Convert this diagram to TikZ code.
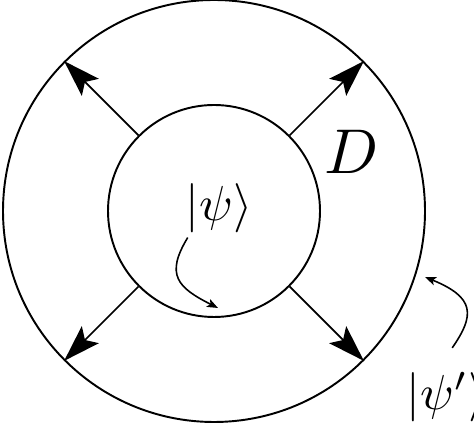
\documentclass[tikz,border=0pt]{standalone}
\usepackage{amssymb}
\usepackage{amsmath}
\usepackage{xcolor}
\usepackage{tikz}
\usetikzlibrary{arrows.meta}

\tikzset{
    ring/.style={draw,circle,inner sep=0pt,line width=1.1pt},
    spread/.style={line width=1pt,-{Stealth[length=0.74cm,width=0.48cm,inset=0.15cm]}},
    pointer/.style={line width=0.9pt,-{Stealth[length=0.22cm,width=0.17cm,inset=0.05cm]}},
    ket/.style={inner sep=0pt,scale=2.8}
}

\begin{document}
\begin{tikzpicture}
                    \useasboundingbox (0,0) rectangle (9.48,8.5);
                    \node[ring,minimum size=8.44cm] (outer) at (4.28,4.28) {};
                    \node[ring,minimum size=4.24cm] (inner) at (4.28,4.28) {};
                    
                    \foreach \a in {45,135,225,315} \draw[spread] (inner.\a) -- (outer.\a);
                    
                    \node[ket] (psi) at (4.38,4.34) {$|\psi\rangle$};
                    \node[inner sep=0pt,scale=3.6] (dom) at (7.04,5.46) {$D$};
                    \node[ket,anchor=west] (psib) at (8.12,0.55) {$|\psi'\rangle$};
                    
                    \coordinate (inbot) at (4.36,2.34);
                    \coordinate (outrim) at (8.5,2.96);
                    \draw[pointer] ([shift={(0.06,-0.08)}]psi.south west) .. controls (3.3,3.0) and (3.55,2.75) .. (inbot);
                    \draw[pointer] ([shift={(0.1,0.48)}]psib.north) .. controls (9.5,2.2) and (9.5,2.55) .. (outrim);
                \end{tikzpicture}
\end{document}
